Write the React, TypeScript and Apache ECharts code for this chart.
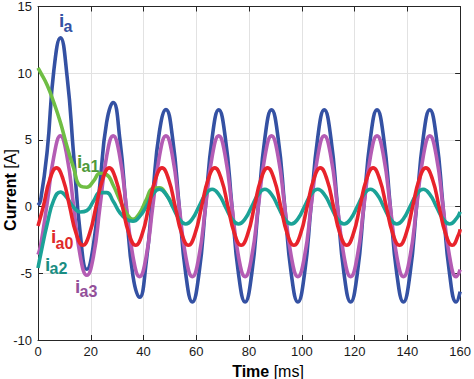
import React, { useEffect, useRef } from "react";
import * as echarts from "echarts";

// Sample times [ms] for i_a, i_a3, i_a2, i_a1 (aligned to their peaks)
const timesA = [
  0,
  1, 3.5, 6, 8.5, 11, 13.5, 16, 18.5,
  21, 23.5, 26, 28.5, 31, 33.5, 36, 38.5,
  41, 43.5, 46, 48.5, 51, 53.5, 56, 58.5,
  61, 63.5, 66, 68.5, 71, 73.5, 76, 78.5,
  81, 83.5, 86, 88.5, 91, 93.5, 96, 98.5,
  101, 103.5, 106, 108.5, 111, 113.5, 116, 118.5,
  121, 123.5, 126, 128.5, 131, 133.5, 136, 138.5,
  141, 143.5, 146, 148.5, 151, 153.5, 156, 158.5,
  160,
];

// Sample times [ms] for i_a0 (aligned to its peaks)
const timesR = [
  0,
  2, 4.5, 7, 9.5, 12, 14.5, 17, 19.5,
  22, 24.5, 27, 29.5, 32, 34.5, 37, 39.5,
  42, 44.5, 47, 49.5, 52, 54.5, 57, 59.5,
  62, 64.5, 67, 69.5, 72, 74.5, 77, 79.5,
  82, 84.5, 87, 89.5, 92, 94.5, 97, 99.5,
  102, 104.5, 107, 109.5, 112, 114.5, 117, 119.5,
  122, 124.5, 127, 129.5, 132, 134.5, 137, 139.5,
  142, 144.5, 147, 149.5, 152, 154.5, 157, 159.5,
  160,
];

// i_a (blue)
const ia = [
  0.1,
  0.5, 4.2, 10.2, 12.65, 9.8, 3.9, -2.0, -4.7,
  -2.9, 1.75, 6.3, 7.8, 5.1, -0.3, -5.2, -6.8,
  -4.2, 0.9, 5.6, 7.27, 5.15, 0.05, -5.05, -7.15,
  -5.05, 0.05, 5.15, 7.25, 5.15, 0.05, -5.05, -7.15,
  -5.05, 0.05, 5.15, 7.25, 5.15, 0.05, -5.05, -7.15,
  -5.05, 0.05, 5.15, 7.25, 5.15, 0.05, -5.05, -7.15,
  -5.05, 0.05, 5.15, 7.25, 5.15, 0.05, -5.05, -7.15,
  -5.05, 0.05, 5.15, 7.25, 5.15, 0.05, -5.05, -7.15,
  -6.37,
];

// i_a3 (magenta)
const ia3 = [
  -3.6,
  -2.9, 0.3, 3.75, 5.3, 3.75, 0.05, -3.7, -5.15,
  -3.75, 0.0, 3.75, 5.3, 3.75, 0.0, -3.75, -5.25,
  -3.75, 0.0, 3.75, 5.3, 3.75, 0.0, -3.75, -5.25,
  -3.75, 0.0, 3.75, 5.3, 3.75, 0.0, -3.75, -5.25,
  -3.75, 0.0, 3.75, 5.3, 3.75, 0.0, -3.75, -5.25,
  -3.75, 0.0, 3.75, 5.3, 3.75, 0.0, -3.75, -5.25,
  -3.75, 0.0, 3.75, 5.3, 3.75, 0.0, -3.75, -5.25,
  -3.75, 0.0, 3.75, 5.3, 3.75, 0.0, -3.75, -5.25,
  -4.72,
];

// i_a2 (teal)
const ia2 = [
  -4.6,
  -3.6, -1.3, 0.5, 1.1, 0.65, -0.05, -0.4, -0.3,
  0.4, 1.05, 1.05, 0.4, -0.45, -0.95, -1.1, -0.75,
  0.0, 0.92, 1.3, 0.92, 0.0, -0.92, -1.3, -0.92,
  0.0, 0.92, 1.3, 0.92, 0.0, -0.92, -1.3, -0.92,
  0.0, 0.92, 1.3, 0.92, 0.0, -0.92, -1.3, -0.92,
  0.0, 0.92, 1.3, 0.92, 0.0, -0.92, -1.3, -0.92,
  0.0, 0.92, 1.3, 0.92, 0.0, -0.92, -1.3, -0.92,
  0.0, 0.92, 1.3, 0.92, 0.0, -0.92, -1.3, -0.92,
  -0.4,
];

// i_a1 (green), visible during the transient only (0..51 ms)
const ia1 = [
  10.4,
  10.05, 9.1, 7.8, 6.3, 4.5, 2.9, 1.55, 1.45,
  1.9, 2.5, 2.4, 1.6, 0.5, -0.5, -0.95, -0.5,
  0.5, 1.35, 1.4, 0.95, 0.05,
];

// i_a0 (red)
const ia0 = [
  -1.45,
  0.0, 2.05, 2.9, 2.05, 0.0, -2.05, -2.9, -2.05,
  0.0, 2.05, 2.9, 2.05, 0.0, -2.05, -2.9, -2.05,
  0.0, 2.05, 2.9, 2.05, 0.0, -2.05, -2.9, -2.05,
  0.0, 2.05, 2.9, 2.05, 0.0, -2.05, -2.9, -2.05,
  0.0, 2.05, 2.9, 2.05, 0.0, -2.05, -2.9, -2.05,
  0.0, 2.05, 2.9, 2.05, 0.0, -2.05, -2.9, -2.05,
  0.0, 2.05, 2.9, 2.05, 0.0, -2.05, -2.9, -2.05,
  0.0, 2.05, 2.9, 2.05, 0.0, -2.05, -2.9, -2.05,
  -1.7,
];

const FONT = "'Liberation Sans', Arial, Helvetica, sans-serif";

const pairs = (ts: number[], vals: number[]) => vals.map((v, i) => [ts[i], v]);

export default function App() {
  const ref = useRef<HTMLDivElement>(null);

  useEffect(() => {
    document.body.style.margin = "0";
    if (!ref.current) return;
    const chart = echarts.init(ref.current, undefined, { renderer: "svg" });

    const lineSeries = (name: string, ts: number[], vals: number[], color: string) => ({
      name,
      type: "line",
      data: pairs(ts, vals),
      smooth: 0.5,
      showSymbol: false,
      symbol: "none",
      lineStyle: { color, width: 3.6 },
      itemStyle: { color },
    });

    const axisCommon = {
      axisLine: { show: true, onZero: false, lineStyle: { color: "#262626", width: 1 } },
      axisTick: { show: true, inside: true, length: 5, lineStyle: { color: "#262626", width: 1 } },
    };

    const label = (x: number, y: number, sy: number, sub: string, color: string) => [
      {
        type: "text",
        x,
        y,
        z: 100,
        style: {
          text: "i",
          fill: color,
          font: `bold 19px ${FONT}`,
          align: "left",
          verticalAlign: "middle",
        },
      },
      {
        type: "text",
        x: x + 4.6,
        y: sy,
        z: 100,
        style: {
          text: sub,
          fill: color,
          font: `bold 16px ${FONT}`,
          align: "left",
          verticalAlign: "middle",
        },
      },
    ];

    chart.setOption({
      animation: false,
      backgroundColor: "#ffffff",
      grid: { left: 38, right: 8, top: 5, bottom: 39, containLabel: false },
      xAxis: [
        {
          type: "value",
          position: "bottom",
          min: 0,
          max: 160,
          interval: 20,
          ...axisCommon,
          axisLabel: { fontSize: 13, color: "#1a1a1a", margin: 5, fontFamily: FONT },
          splitLine: { show: true, lineStyle: { color: "#e2e2e2", width: 1 } },
        },
        {
          type: "value",
          position: "top",
          min: 0,
          max: 160,
          interval: 20,
          ...axisCommon,
          axisLabel: { show: false },
          splitLine: { show: false },
        },
      ],
      yAxis: [
        {
          type: "value",
          position: "left",
          min: -10,
          max: 15,
          interval: 5,
          ...axisCommon,
          axisLabel: { fontSize: 13, color: "#1a1a1a", margin: 6, fontFamily: FONT },
          splitLine: { show: true, lineStyle: { color: "#e2e2e2", width: 1 } },
        },
        {
          type: "value",
          position: "right",
          min: -10,
          max: 15,
          interval: 5,
          ...axisCommon,
          axisLabel: { show: false },
          splitLine: { show: false },
        },
      ],
      series: [
        lineSeries("ia", timesA, ia, "#3451a3"),
        lineSeries("ia3", timesA, ia3, "#b45cb4"),
        lineSeries("ia1", timesA, ia1, "#6fbe44"),
        lineSeries("ia2", timesA, ia2, "#1ba297"),
        lineSeries("ia0", timesR, ia0, "#e8232b"),
      ],
      graphic: [
        ...label(59, 20, 26, "a", "#3451a3"),
        ...label(77, 161.5, 166.5, "a1", "#4f9a3a"),
        ...label(51, 236.5, 243, "a0", "#e02a2a"),
        ...label(45, 264.5, 268.5, "a2", "#1a8d82"),
        ...label(75, 286, 291.5, "a3", "#93509a"),
        {
          type: "text",
          x: 10,
          y: 190,
          rotation: Math.PI / 2,
          style: {
            text: "{b|Current} [A]",
            fill: "#000",
            font: `16px ${FONT}`,
            align: "center",
            verticalAlign: "middle",
            rich: { b: { fontWeight: "bold", fontSize: 16, fontFamily: FONT, fill: "#000" } },
          },
        },
        {
          type: "text",
          x: 268,
          y: 371,
          style: {
            text: "{b|Time} [ms]",
            fill: "#000",
            font: `16px ${FONT}`,
            align: "center",
            verticalAlign: "middle",
            rich: { b: { fontWeight: "bold", fontSize: 16, fontFamily: FONT, fill: "#000" } },
          },
        },
      ],
    });

    return () => chart.dispose();
  }, []);

  return <div ref={ref} style={{ width: 474, height: 379 }} />;
}
